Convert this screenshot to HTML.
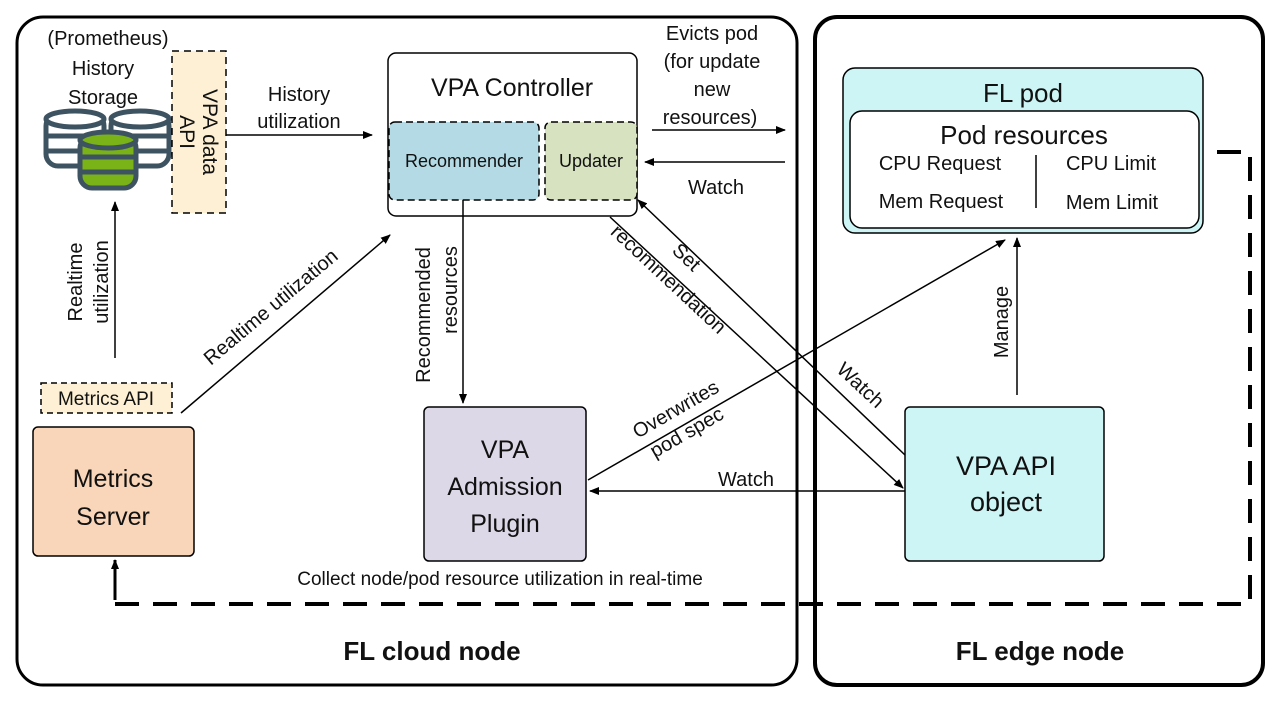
<!DOCTYPE html>
<html><head><meta charset="utf-8"><style>
html,body{margin:0;padding:0;background:#fff;}
svg{display:block;}
text{font-family:"Liberation Sans",sans-serif;fill:#111;}
</style></head><body>
<svg width="1275" height="702" viewBox="0 0 1275 702" xmlns="http://www.w3.org/2000/svg">
<defs>
<marker id="a" markerWidth="10" markerHeight="8" refX="9" refY="4" orient="auto" markerUnits="userSpaceOnUse">
<path d="M0,0 L10,4 L0,8 z" fill="#000"/></marker>
</defs>
<rect x="17" y="17" width="780" height="668" rx="26" fill="none" stroke="#000" stroke-width="3"/>
<rect x="815" y="17" width="448" height="668" rx="22" fill="none" stroke="#000" stroke-width="4"/>
<text x="432" y="660" font-size="26" font-weight="bold" text-anchor="middle">FL cloud node</text>
<text x="1040" y="660" font-size="26" font-weight="bold" text-anchor="middle">FL edge node</text>

<text x="108" y="45" font-size="20" text-anchor="middle">(Prometheus)</text>
<text x="103" y="75" font-size="20" text-anchor="middle">History</text>
<text x="103" y="104" font-size="20" text-anchor="middle">Storage</text>
<g stroke="#3e5361" stroke-width="5" fill="#fff">
<rect x="46" y="114" width="58" height="52" rx="12"/>
<ellipse cx="75" cy="119" rx="29" ry="8"/>
<line x1="46" y1="136" x2="104" y2="136"/><line x1="46" y1="151" x2="104" y2="151"/>
<rect x="111" y="114" width="58" height="52" rx="12"/>
<ellipse cx="140" cy="119" rx="29" ry="8"/>
<line x1="111" y1="136" x2="169" y2="136"/><line x1="111" y1="151" x2="169" y2="151"/>
<rect x="80" y="136" width="56" height="52" rx="12" fill="#7ab317"/>
<ellipse cx="108" cy="140" rx="28" ry="8" fill="#7ab317"/>
<line x1="80" y1="157" x2="136" y2="157"/><line x1="80" y1="172" x2="136" y2="172"/>
</g>

<rect x="172" y="51" width="54" height="162" fill="#fdf0d4" stroke="#000" stroke-width="1.5" stroke-dasharray="7,5"/>
<text transform="translate(203,132) rotate(90)" font-size="21" text-anchor="middle">VPA data</text>
<text transform="translate(180,132) rotate(90)" font-size="21" text-anchor="middle">API</text>

<line x1="226" y1="135" x2="372" y2="135" stroke="#000" stroke-width="1.5" marker-end="url(#a)"/>
<text x="299" y="101" font-size="20" text-anchor="middle">History</text>
<text x="299" y="128" font-size="20" text-anchor="middle">utilization</text>

<rect x="388" y="53" width="249" height="163" rx="8" fill="#fff" stroke="#000" stroke-width="1.5"/>
<text x="512" y="96" font-size="25" text-anchor="middle">VPA Controller</text>
<rect x="389" y="122" width="150" height="78" rx="6" fill="#b4dbe5" stroke="#000" stroke-width="1.5" stroke-dasharray="7,4"/>
<text x="464" y="167" font-size="18" text-anchor="middle">Recommender</text>
<rect x="545" y="122" width="92" height="78" rx="6" fill="#d7e3c0" stroke="#000" stroke-width="1.5" stroke-dasharray="7,4"/>
<text x="591" y="167" font-size="18" text-anchor="middle">Updater</text>

<text x="712" y="40" font-size="20" text-anchor="middle">Evicts pod</text>
<text x="712" y="68" font-size="20" text-anchor="middle">(for update</text>
<text x="712" y="96" font-size="20" text-anchor="middle">new</text>
<text x="710" y="124" font-size="20" text-anchor="middle">resources)</text>
<line x1="652" y1="130" x2="785" y2="130" stroke="#000" stroke-width="1.5" marker-end="url(#a)"/>
<line x1="785" y1="162" x2="645" y2="162" stroke="#000" stroke-width="1.5" marker-end="url(#a)"/>
<text x="716" y="194" font-size="20" text-anchor="middle">Watch</text>

<line x1="115" y1="358" x2="115" y2="202" stroke="#000" stroke-width="1.5" marker-end="url(#a)"/>
<text transform="translate(82,282) rotate(-90)" font-size="20" text-anchor="middle">Realtime</text>
<text transform="translate(108,282) rotate(-90)" font-size="20" text-anchor="middle">utilization</text>
<rect x="41" y="383" width="131" height="30" fill="#fdf0d4" stroke="#000" stroke-width="1.5" stroke-dasharray="6,4"/>
<text x="106" y="405" font-size="19" text-anchor="middle">Metrics API</text>
<line x1="181" y1="413" x2="390" y2="235" stroke="#000" stroke-width="1.5" marker-end="url(#a)"/>
<text transform="translate(275,312) rotate(-40)" font-size="20" text-anchor="middle">Realtime utilization</text>

<rect x="33" y="427" width="161" height="129" rx="5" fill="#f9d5b9" stroke="#000" stroke-width="1.5"/>
<text x="113" y="487" font-size="25" text-anchor="middle">Metrics</text>
<text x="113" y="525" font-size="25" text-anchor="middle">Server</text>

<line x1="463" y1="200" x2="463" y2="403" stroke="#000" stroke-width="1.5" marker-end="url(#a)"/>
<text transform="translate(430,315) rotate(-90)" font-size="20" text-anchor="middle">Recommended</text>
<text transform="translate(457,290) rotate(-90)" font-size="20" text-anchor="middle">resources</text>

<rect x="424" y="407" width="162" height="154" rx="5" fill="#ddd8e7" stroke="#000" stroke-width="1.5"/>
<text x="505" y="458" font-size="25" text-anchor="middle">VPA</text>
<text x="505" y="495" font-size="25" text-anchor="middle">Admission</text>
<text x="505" y="532" font-size="25" text-anchor="middle">Plugin</text>

<line x1="610" y1="217" x2="903" y2="488" stroke="#000" stroke-width="1.5" marker-end="url(#a)"/>
<line x1="905" y1="455" x2="638" y2="200" stroke="#000" stroke-width="1.5" marker-end="url(#a)"/>
<text transform="translate(664,284) rotate(43)" font-size="20" text-anchor="middle">recommendation</text>
<text transform="translate(682,262) rotate(43)" font-size="20" text-anchor="middle">Set</text>
<text transform="translate(856,390) rotate(43)" font-size="20" text-anchor="middle">Watch</text>

<line x1="588" y1="480" x2="1005" y2="240" stroke="#000" stroke-width="1.5" marker-end="url(#a)"/>
<text transform="translate(679,415) rotate(-30)" font-size="20" text-anchor="middle">Overwrites</text>
<text transform="translate(690,438) rotate(-30)" font-size="20" text-anchor="middle">pod spec</text>
<line x1="905" y1="491" x2="590" y2="491" stroke="#000" stroke-width="1.5" marker-end="url(#a)"/>
<text x="746" y="486" font-size="20" text-anchor="middle">Watch</text>

<text x="500" y="585" font-size="19" text-anchor="middle">Collect node/pod resource utilization in real-time</text>

<path d="M115,604 L1250,604 L1250,152 L1200,152" fill="none" stroke="#000" stroke-width="4" stroke-dasharray="24,14"/>
<line x1="115" y1="600" x2="115" y2="560" stroke="#000" stroke-width="3" marker-end="url(#a)"/>

<rect x="843" y="68" width="360" height="165" rx="12" fill="#cdf5f6" stroke="#000" stroke-width="1.5"/>
<text x="1023" y="102" font-size="26" text-anchor="middle">FL pod</text>
<rect x="850" y="111" width="349" height="117" rx="12" fill="#fff" stroke="#000" stroke-width="1.5"/>
<text x="1024" y="144" font-size="26" text-anchor="middle">Pod resources</text>
<text x="940" y="170" font-size="20" text-anchor="middle">CPU Request</text>
<text x="1111" y="170" font-size="20" text-anchor="middle">CPU Limit</text>
<text x="941" y="208" font-size="20" text-anchor="middle">Mem Request</text>
<text x="1112" y="209" font-size="20" text-anchor="middle">Mem Limit</text>
<line x1="1036" y1="155" x2="1036" y2="208" stroke="#000" stroke-width="1.5"/>

<line x1="1017" y1="395" x2="1017" y2="238" stroke="#000" stroke-width="1.5" marker-end="url(#a)"/>
<text transform="translate(1008,322) rotate(-90)" font-size="20" text-anchor="middle">Manage</text>

<rect x="905" y="407" width="199" height="154" rx="5" fill="#cdf5f6" stroke="#000" stroke-width="1.5"/>
<text x="1006" y="475" font-size="27" text-anchor="middle">VPA API</text>
<text x="1006" y="511" font-size="27" text-anchor="middle">object</text>
</svg>
</body></html>
